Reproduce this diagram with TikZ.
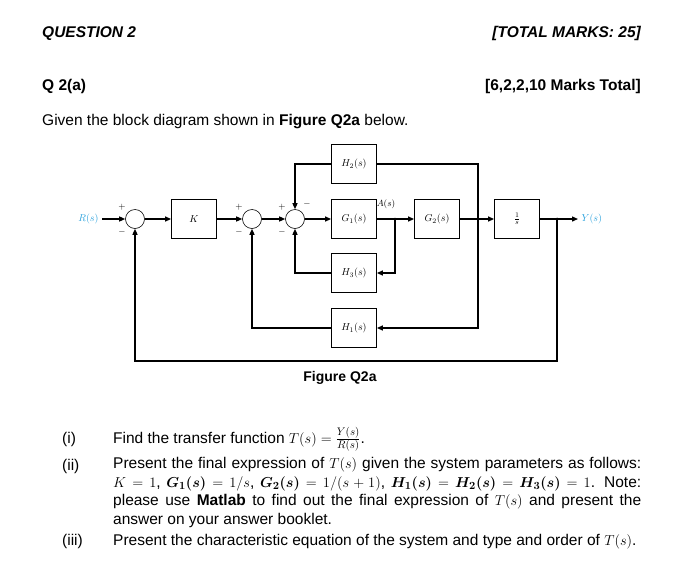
\documentclass[tikz,border=0pt]{standalone}
\usepackage{amsmath}
\usepackage{fontspec}
\setmainfont{Liberation Sans}
\usetikzlibrary{arrows.meta}
\definecolor{sigblue}{RGB}{40,160,220}
\begin{document}
\begin{tikzpicture}[x=1pt,y=-1pt,
  blk/.style={draw,line width=0.8pt,minimum width=45pt,minimum height=39pt,inner sep=0pt,font=\normalsize},
  sum/.style={draw,circle,line width=0.6pt,minimum size=19pt,inner sep=0pt},
  sig/.style={line width=1.3pt,-{Triangle[length=6pt,width=5pt]}},
  wire/.style={line width=1.3pt},
  sgn/.style={font=\small,inner sep=1pt},
  txt/.style={anchor=base west,inner sep=0pt,font=\fontsize{15.5}{18.6}\selectfont}]
\useasboundingbox (0,0) rectangle (696,563);
% header
\node[txt,font=\fontsize{15.5}{18}\selectfont\bfseries\itshape] (q) at (42,37) {QUESTION 2};
\node[txt,anchor=base east,font=\fontsize{15.5}{18}\selectfont\bfseries\itshape] (tm) at (641,37) {[TOTAL MARKS: 25]};
\node[txt,font=\fontsize{15.5}{18}\selectfont\bfseries] (qa) at (42,90) {Q 2(a)};
\node[txt,anchor=base east,font=\fontsize{15.5}{18}\selectfont\bfseries] (mk) at (641,90) {[6,2,2,10 Marks Total]};
\node[txt] (gv) at (42,125) {Given the block diagram shown in \textbf{Figure Q2a} below.};
% diagram
\node[sum] (s1) at (135,219) {};
\node[blk] (k) at (194,219) {$K$};
\node[sum] (s2) at (252,219) {};
\node[sum] (s3) at (295,219) {};
\node[blk] (g1) at (354,219) {$G_1(s)$};
\node[blk] (g2) at (437,219) {$G_2(s)$};
\node[blk] (in) at (517,219) {$\frac{1}{s}$};
\node[blk] (h2) at (354,164) {$H_2(s)$};
\node[blk] (h3) at (354,273) {$H_3(s)$};
\node[blk] (h1) at (354,328) {$H_1(s)$};
\node[font=\normalsize,text=sigblue,anchor=east] (r) at (102,219) {$R(s)$};
\node[font=\normalsize,text=sigblue,anchor=west] (y) at (578,219) {$Y(s)$};
\coordinate (ja) at (395,219);
\coordinate (jb) at (478,219);
\coordinate (jy) at (557,219);
\fill (ja) circle (1.5pt) (jb) circle (1.5pt) (jy) circle (1.5pt);
\draw[sig] (r) -- (s1);
\draw[sig] (s1) -- (k);
\draw[sig] (k) -- (s2);
\draw[sig] (s2) -- (s3);
\draw[sig] (s3) -- (g1);
\draw[wire] (g1) -- (ja);
\draw[sig] (ja) -- (g2);
\draw[wire] (g2) -- (jb);
\draw[sig] (jb) -- (in);
\draw[wire] (in) -- (jy);
\draw[sig] (jy) -- (y);
\draw[sig] (ja) |- (h3);
\draw[sig] (h3) -| (s3);
\draw[sig] (h2) -| (s3);
\draw[wire] (jb) |- (h2);
\draw[sig] (jb) |- (h1);
\draw[sig] (h1) -| (s2);
\draw[sig] (jy) |- (135,361) -- (s1);
\node[font=\small,anchor=south] (al) at (386,212) {$A(s)$};
\node[sgn] (p1) at (122,207) {$+$};
\node[sgn] (m1) at (122,232) {$-$};
\node[sgn] (p2) at (239,207) {$+$};
\node[sgn] (m2) at (239,232) {$-$};
\node[sgn] (p3) at (282,207) {$+$};
\node[sgn] (m3) at (282,232) {$-$};
\node[sgn] (m4) at (307,204) {$-$};
\node[font=\fontsize{14}{16}\selectfont\bfseries] (fig) at (340,378) {Figure Q2a};
% questions
\node[txt] (i1) at (62,443) {(i)};
\node[txt] (t1) at (113,443) {Find the transfer function $T(s)=\frac{Y(s)}{R(s)}$.};
\node[txt] (i2) at (62,470) {(ii)};
\node[txt,anchor=north west,text width=528pt,align=justify] (t2) at (113,457) {Present the final expression of $T(s)$ given the system parameters as follows:\linebreak $K=1$, $\boldsymbol{G_1(s)}=1/s$, $\boldsymbol{G_2(s)}=1/(s+1)$, $\boldsymbol{H_1(s)}=\boldsymbol{H_2(s)}=\boldsymbol{H_3(s)}=1$. Note:\linebreak please use \textbf{Matlab} to find out the final expression of $T(s)$ and present the\linebreak answer on your answer booklet.};
\node[txt] (i3) at (62,545) {(iii)};
\node[txt] (t3) at (113,545) {Present the characteristic equation of the system and type and order of $T(s)$.};
\end{tikzpicture}
\end{document}
